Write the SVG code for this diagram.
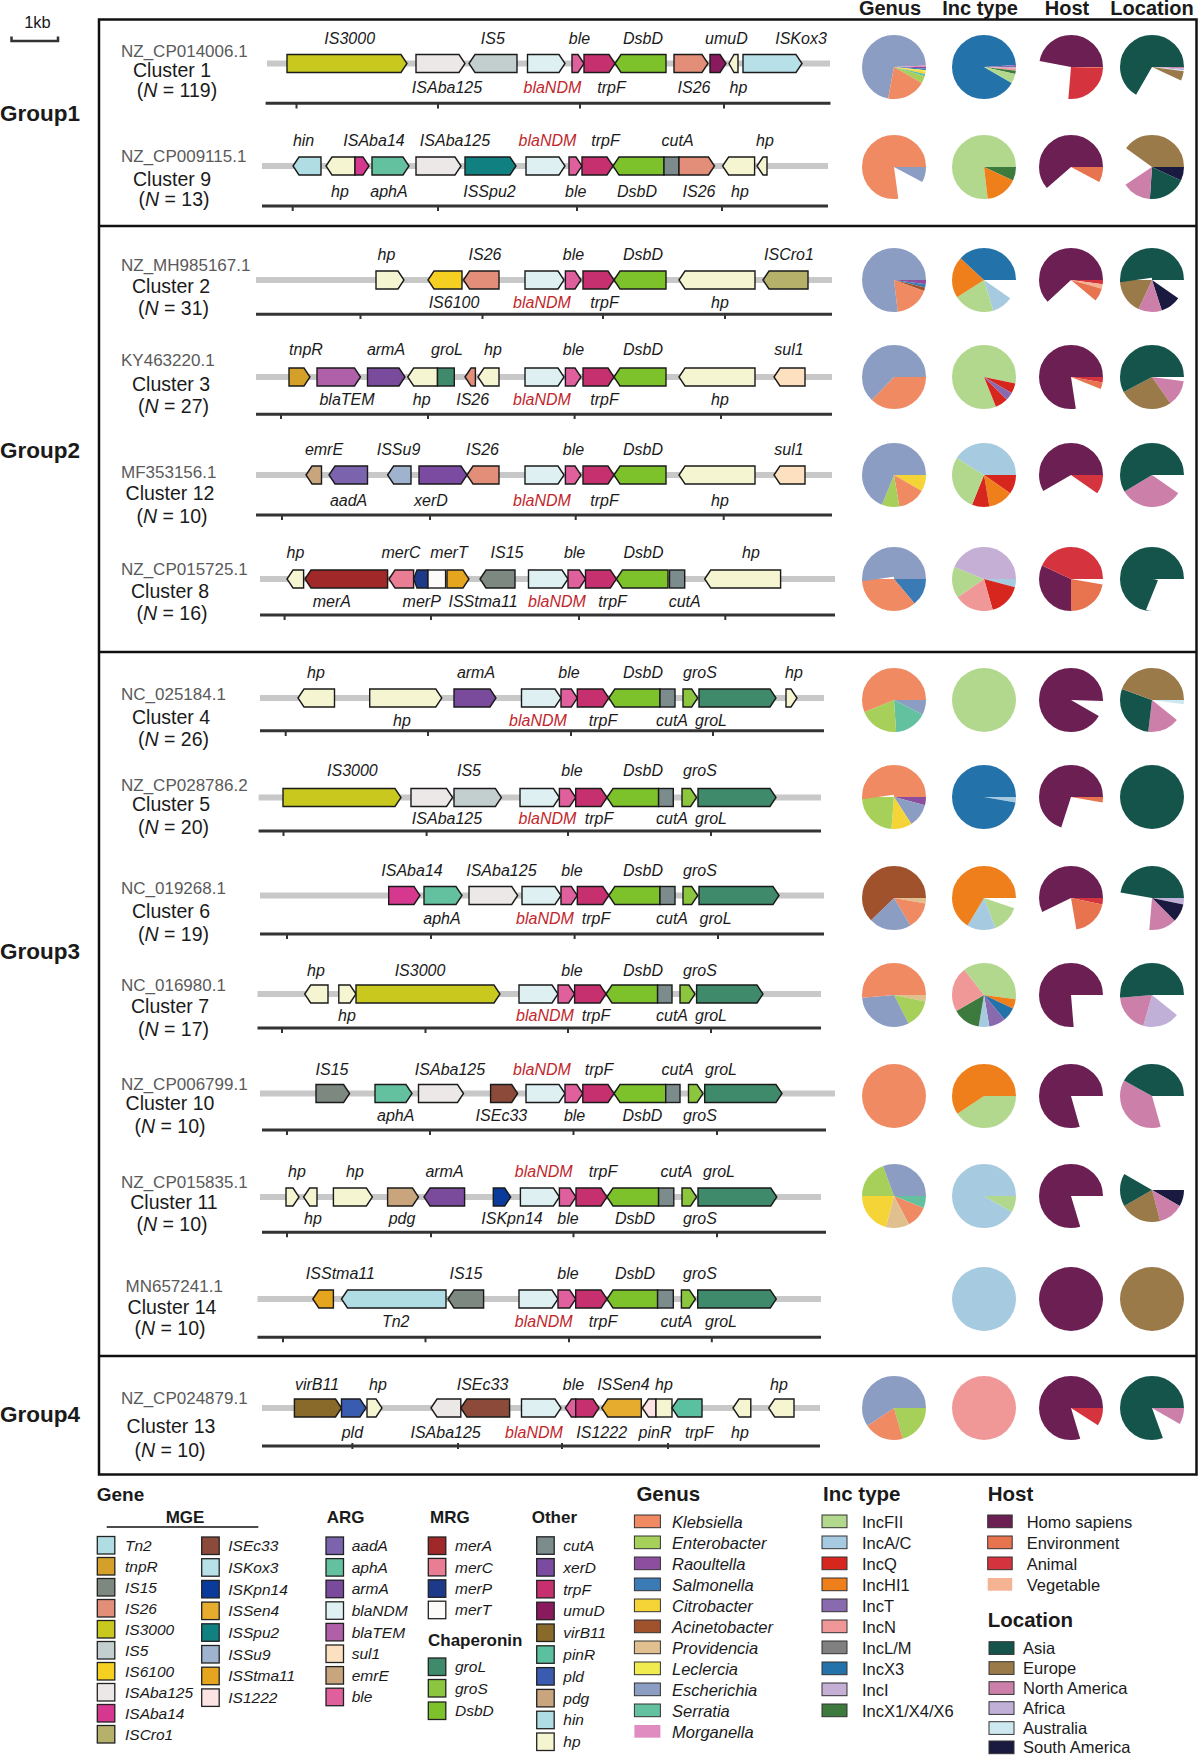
<svg xmlns="http://www.w3.org/2000/svg" width="1200" height="1755" viewBox="0 0 1200 1755">
<style>
text{font-family:"Liberation Sans",Arial,sans-serif;fill:#1a1a1a}
.lab{font-size:16px;font-style:italic;text-anchor:middle}
.red{fill:#c1272d}
.acc{font-size:17px;fill:#5a5a5a}
.cl{font-size:19.5px;text-anchor:middle}
.grp{font-size:22.5px;font-weight:bold}
.hd{font-size:20px;font-weight:bold;text-anchor:middle}
.lh{font-weight:bold}
.lg{font-size:15.5px;font-style:italic}
.lg2{font-size:16.5px}
.it{font-style:italic}
.bb{stroke:#c8c8c8;stroke-width:6}
.ru{stroke:#333;stroke-width:3}
.tk{stroke:#333;stroke-width:2}
polygon,rect.g{stroke:#1a1a1a;stroke-width:1.4}
.sw{stroke:#222;stroke-width:1.3}
.s{fill:none;stroke-width:32}
.Tn2{fill:#b0dde3}.tnpR{fill:#d4a02a}.IS15{fill:#7c8880}.IS26{fill:#e38e78}.IS3000{fill:#c8c81e}.IS5{fill:#c3cfcf}.IS6100{fill:#f5d020}.ISAba125{fill:#ece8e8}.ISAba14{fill:#d6388f}.ISCro1{fill:#b5b06a}.ISEc33{fill:#8b4a3a}.ISKox3{fill:#b7e0e8}.ISKpn14{fill:#0a3a9a}.ISSen4{fill:#e6ac2e}.ISSpu2{fill:#108080}.ISSu9{fill:#9fb3cf}.ISStma11{fill:#e6a51e}.IS1222{fill:#fde4e4}
.aadA{fill:#7b63ad}.aphA{fill:#63c1a0}.armA{fill:#7a4b9c}.blaNDM{fill:#dff0f2}.blaTEM{fill:#b060a8}.sul1{fill:#fde0c0}.emrE{fill:#c9a57e}.ble{fill:#e0609d}
.merA{fill:#a02828}.merC{fill:#e87d94}.merP{fill:#1d3a8a}.merT{fill:#fdfafa}.groL{fill:#3e8a6a}.groS{fill:#8cc63e}.DsbD{fill:#7dc22a}
.cutA{fill:#7c8c8c}.xerD{fill:#7a4ba0}.trpF{fill:#c6306f}.umuD{fill:#8a1a5e}.virB11{fill:#8a6a2a}.pinR{fill:#5bc0a0}.pld{fill:#3a5cb0}.pdg{fill:#c9a57e}.hin{fill:#b0dde3}.hp{fill:#f6f5d2}
.pKl{stroke:#ef8a62}.pEn{stroke:#a6d05a}.pRa{stroke:#8e4ea0}.pSa{stroke:#3a7ab5}.pCi{stroke:#f5d438}.pAc{stroke:#a0522d}.pPr{stroke:#e0c08f}.pLe{stroke:#f0ec50}.pEs{stroke:#8b9dc3}.pSe{stroke:#63c1a0}.pMo{stroke:#e08cc0}
.pFII{stroke:#b2d88e}.pAC{stroke:#a6cadf}.pQ{stroke:#d7261e}.pHI1{stroke:#ef7f1a}.pT{stroke:#8a6aae}.pN{stroke:#f09898}.pLM{stroke:#808080}.pX3{stroke:#2372a9}.pI{stroke:#c5afd5}.pX1{stroke:#3d7a3d}
.pHo{stroke:#6b1f52}.pEv{stroke:#e8734f}.pAn{stroke:#d5343f}.pVe{stroke:#f4b392}
.pAs{stroke:#14544a}.pEu{stroke:#9b7a4a}.pNA{stroke:#cc7fa8}.pAf{stroke:#c0b0d8}.pAu{stroke:#cde9ef}.pSA{stroke:#1a1a40}
</style>
<rect width="1200" height="1755" fill="#fff"/>

<!-- scale bar and headers -->
<g id="scale">
<text x="37.5" y="28" font-size="16.5" text-anchor="middle">1kb</text>
<path d="M11.5,36.5 V41 H58 V36.5" fill="none" stroke="#333" stroke-width="2.5"/>
</g>
<g id="headers">
<text class="hd" x="890" y="15">Genus</text>
<text class="hd" x="980" y="15">Inc type</text>
<text class="hd" x="1067" y="15">Host</text>
<text class="hd" x="1152" y="15">Location</text>
</g>

<!-- frame -->
<g id="frame" fill="none" stroke="#111" stroke-width="2.5">
<rect x="99" y="19.5" width="1097.5" height="1455"/>
<line x1="99" y1="226" x2="1196.5" y2="226"/>
<line x1="99" y1="652" x2="1196.5" y2="652"/>
<line x1="99" y1="1356" x2="1196.5" y2="1356"/>
</g>
<g id="groups">
<text class="grp" x="0" y="121">Group1</text>
<text class="grp" x="0" y="458">Group2</text>
<text class="grp" x="0" y="959">Group3</text>
<text class="grp" x="0" y="1422">Group4</text>
</g>

<!-- Cluster 1 -->
<g id="cluster1" transform="translate(0,63.5)">
<text class="acc" x="121" y="-6.5">NZ_CP014006.1</text>
<text class="cl" x="172" y="13.5">Cluster 1</text>
<text class="cl" x="177" y="33.5">(<tspan class="it">N</tspan> = 119)</text>
<line class="bb" x1="267" x2="830" y1="0" y2="0"/>
<polygon class="IS3000" points="287,-9 401,-9 407,0 401,9 287,9"/>
<polygon class="ISAba125" points="416,-9 459,-9 465,0 459,9 416,9"/>
<polygon class="IS5" points="469,0 475,-9 517,-9 517,9 475,9"/>
<polygon class="blaNDM" points="527.5,-9 559,-9 565,0 559,9 527.5,9"/>
<polygon class="ble" points="572,-9 578,-9 584,0 578,9 572,9"/>
<polygon class="trpF" points="584,-9 609,-9 615,0 609,9 584,9"/>
<polygon class="DsbD" points="615,0 621,-9 666,-9 666,9 621,9"/>
<polygon class="IS26" points="674,-9 702,-9 708,0 702,9 674,9"/>
<polygon class="umuD" points="710,-9 720,-9 726,0 720,9 710,9"/>
<polygon class="hp" points="729,0 734,-9 738,-9 738,9 734,9"/>
<polygon class="ISKox3" points="743,-9 796,-9 802,0 796,9 743,9"/>
<text class="lab" y="-19.5"><tspan x="349.7">IS3000</tspan><tspan x="492.8">IS5</tspan><tspan x="579.5">ble</tspan><tspan x="643">DsbD</tspan><tspan x="726.4">umuD</tspan><tspan x="801">ISKox3</tspan></text>
<text class="lab" y="29.5"><tspan x="447">ISAba125</tspan><tspan x="552.4" class="red">blaNDM</tspan><tspan x="611.5">trpF</tspan><tspan x="694">IS26</tspan><tspan x="738.5">hp</tspan></text>
<line class="ru" x1="265.6" x2="830.5" y1="39.8" y2="39.8"/>
<path class="tk" d="M296.5,40v5M438,40v5M580,40v5M724,40v5"/>
</g>

<!-- Cluster 9 -->
<g id="cluster9" transform="translate(0,166)">
<text class="acc" x="121" y="-4">NZ_CP009115.1</text>
<text class="cl" x="172" y="20">Cluster 9</text>
<text class="cl" x="174" y="40">(<tspan class="it">N</tspan> = 13)</text>
<line class="bb" x1="262" x2="828" y1="0" y2="0"/>
<polygon class="hin" points="293,0 299,-9 321,-9 321,9 299,9"/>
<polygon class="hp" points="326,0 332,-9 355,-9 355,9 332,9"/>
<polygon class="ISAba14" points="355,-9 363,-9 369,0 363,9 355,9"/>
<polygon class="aphA" points="372,-9 403,-9 409,0 403,9 372,9"/>
<polygon class="ISAba125" points="416,-9 455,-9 461,0 455,9 416,9"/>
<polygon class="ISSpu2" points="465,-9 510,-9 516,0 510,9 465,9"/>
<polygon class="blaNDM" points="526,-9 559,-9 565,0 559,9 526,9"/>
<polygon class="ble" points="569,-9 576,-9 582,0 576,9 569,9"/>
<polygon class="trpF" points="582,-9 607,-9 613,0 607,9 582,9"/>
<polygon class="DsbD" points="613,0 619,-9 664,-9 664,9 619,9"/>
<rect class="g cutA" x="664" y="-9" width="15" height="18"/>
<polygon class="IS26" points="679,-9 708.5,-9 714.5,0 708.5,9 679,9"/>
<polygon class="hp" points="722.6,0 728.6,-9 754.6,-9 754.6,9 728.6,9"/>
<polygon class="hp" points="757,0 763,-9 767,-9 767,9 763,9"/>
<text class="lab" y="-20"><tspan x="303.6">hin</tspan><tspan x="374">ISAba14</tspan><tspan x="455">ISAba125</tspan><tspan x="547.5" class="red">blaNDM</tspan><tspan x="605.5">trpF</tspan><tspan x="677.6">cutA</tspan><tspan x="765">hp</tspan></text>
<text class="lab" y="31"><tspan x="340">hp</tspan><tspan x="389">aphA</tspan><tspan x="489.5">ISSpu2</tspan><tspan x="575.7">ble</tspan><tspan x="637">DsbD</tspan><tspan x="699">IS26</tspan><tspan x="740">hp</tspan></text>
<line class="ru" x1="262" x2="828" y1="40" y2="40"/>
<path class="tk" d="M292.7,40v5M438,40v5M577,40v5M722,40v5"/>
</g>

<!-- Cluster 2 -->
<g id="cluster2" transform="translate(0,280)">
<text class="acc" x="121" y="-9">NZ_MH985167.1</text>
<text class="cl" x="171" y="13">Cluster 2</text>
<text class="cl" x="173.5" y="35">(<tspan class="it">N</tspan> = 31)</text>
<line class="bb" x1="256" x2="832" y1="0" y2="0"/>
<polygon class="hp" points="376,-9 398,-9 404,0 398,9 376,9"/>
<polygon class="IS6100" points="428,0 434,-9 462,-9 462,9 434,9"/>
<polygon class="IS26" points="463.5,0 469.5,-9 499,-9 499,9 469.5,9"/>
<polygon class="blaNDM" points="525,-9 558,-9 564,0 558,9 525,9"/>
<polygon class="ble" points="565.4,-9 575,-9 581,0 575,9 565.4,9"/>
<polygon class="trpF" points="583,-9 608,-9 614,0 608,9 583,9"/>
<polygon class="DsbD" points="614,0 620,-9 666,-9 666,9 620,9"/>
<polygon class="hp" points="679,0 685,-9 755,-9 755,9 685,9"/>
<polygon class="ISCro1" points="763,0 769,-9 808,-9 808,9 769,9"/>
<text class="lab" y="-20"><tspan x="386.5">hp</tspan><tspan x="485">IS26</tspan><tspan x="573.5">ble</tspan><tspan x="643">DsbD</tspan><tspan x="789">ISCro1</tspan></text>
<text class="lab" y="28"><tspan x="454">IS6100</tspan><tspan x="542" class="red">blaNDM</tspan><tspan x="604.5">trpF</tspan><tspan x="720">hp</tspan></text>
<line class="ru" x1="256" x2="832" y1="34.3" y2="34.3"/>
<path class="tk" d="M360.5,34v5M482.5,34v5M603,34v5M725,34v5"/>
</g>

<!-- Cluster 3 -->
<g id="cluster3" transform="translate(0,377)">
<text class="acc" x="121" y="-11">KY463220.1</text>
<text class="cl" x="171" y="14">Cluster 3</text>
<text class="cl" x="173.5" y="36">(<tspan class="it">N</tspan> = 27)</text>
<line class="bb" x1="256" x2="832" y1="0" y2="0"/>
<polygon class="tnpR" points="289,-9 304,-9 310,0 304,9 289,9"/>
<polygon class="blaTEM" points="317,-9 354.5,-9 360.5,0 354.5,9 317,9"/>
<polygon class="armA" points="367.5,-9 399,-9 405,0 399,9 367.5,9"/>
<polygon class="hp" points="407.7,0 413.7,-9 437.5,-9 437.5,9 413.7,9"/>
<rect class="g groL" x="437.5" y="-9" width="16.8" height="18"/>
<polygon class="IS26" points="465,0 471,-9 475.4,-9 475.4,9 471,9"/>
<polygon class="hp" points="478,0 484,-9 499,-9 499,9 484,9"/>
<polygon class="blaNDM" points="525,-9 558,-9 564,0 558,9 525,9"/>
<polygon class="ble" points="565.4,-9 575,-9 581,0 575,9 565.4,9"/>
<polygon class="trpF" points="583,-9 608,-9 614,0 608,9 583,9"/>
<polygon class="DsbD" points="614,0 620,-9 666,-9 666,9 620,9"/>
<polygon class="hp" points="679,0 685,-9 755,-9 755,9 685,9"/>
<polygon class="sul1" points="774,0 780,-9 805,-9 805,9 780,9"/>
<text class="lab" y="-22"><tspan x="306">tnpR</tspan><tspan x="386">armA</tspan><tspan x="447">groL</tspan><tspan x="493">hp</tspan><tspan x="573.5">ble</tspan><tspan x="643">DsbD</tspan><tspan x="789">sul1</tspan></text>
<text class="lab" y="28"><tspan x="347">blaTEM</tspan><tspan x="421.7">hp</tspan><tspan x="472.7">IS26</tspan><tspan x="542" class="red">blaNDM</tspan><tspan x="604.5">trpF</tspan><tspan x="720">hp</tspan></text>
<line class="ru" x1="256" x2="832" y1="37.3" y2="37.3"/>
<path class="tk" d="M281,37v5M428,37v5M574.6,37v5M721,37v5"/>
</g>

<!-- Cluster 12 -->
<g id="cluster12" transform="translate(0,475)">
<text class="acc" x="121" y="3">MF353156.1</text>
<text class="cl" x="170" y="25">Cluster 12</text>
<text class="cl" x="172" y="48">(<tspan class="it">N</tspan> = 10)</text>
<line class="bb" x1="256" x2="832" y1="0" y2="0"/>
<polygon class="emrE" points="306,0 312,-9 321.5,-9 321.5,9 312,9"/>
<polygon class="aadA" points="329,0 335,-9 367.5,-9 367.5,9 335,9"/>
<polygon class="ISSu9" points="387.6,0 393.6,-9 411,-9 411,9 393.6,9"/>
<polygon class="xerD" points="419,-9 461,-9 467,0 461,9 419,9"/>
<polygon class="IS26" points="467,0 473,-9 499,-9 499,9 473,9"/>
<polygon class="blaNDM" points="525,-9 558,-9 564,0 558,9 525,9"/>
<polygon class="ble" points="565.4,-9 575,-9 581,0 575,9 565.4,9"/>
<polygon class="trpF" points="583,-9 608,-9 614,0 608,9 583,9"/>
<polygon class="DsbD" points="614,0 620,-9 666,-9 666,9 620,9"/>
<polygon class="hp" points="679,0 685,-9 755,-9 755,9 685,9"/>
<polygon class="sul1" points="774,0 780,-9 805,-9 805,9 780,9"/>
<text class="lab" y="-20"><tspan x="324">emrE</tspan><tspan x="398.5">ISSu9</tspan><tspan x="482.5">IS26</tspan><tspan x="573.5">ble</tspan><tspan x="643">DsbD</tspan><tspan x="789">sul1</tspan></text>
<text class="lab" y="31"><tspan x="348.6">aadA</tspan><tspan x="431">xerD</tspan><tspan x="542" class="red">blaNDM</tspan><tspan x="604.5">trpF</tspan><tspan x="720">hp</tspan></text>
<line class="ru" x1="256" x2="832" y1="40" y2="40"/>
<path class="tk" d="M282,40v5M430,40v5M575.7,40v5M723.7,40v5"/>
</g>

<!-- Cluster 8 -->
<g id="cluster8" transform="translate(0,579)">
<text class="acc" x="121" y="-4">NZ_CP015725.1</text>
<text class="cl" x="170" y="19">Cluster 8</text>
<text class="cl" x="172" y="41">(<tspan class="it">N</tspan> = 16)</text>
<line class="bb" x1="260" x2="835" y1="0" y2="0"/>
<polygon class="hp" points="287,0 293,-9 303.6,-9 303.6,9 293,9"/>
<polygon class="merA" points="305,0 311,-9 387.6,-9 387.6,9 311,9"/>
<polygon class="merC" points="389,0 395,-9 413.6,-9 413.6,9 395,9"/>
<polygon class="merP" points="413.6,0 417,-9 428,-9 428,9 417,9"/>
<rect class="g merT" x="428" y="-9" width="17.6" height="18"/>
<polygon class="ISStma11" points="447,-9 463,-9 469,0 463,9 447,9"/>
<polygon class="IS15" points="480,0 486,-9 515,-9 515,9 486,9"/>
<polygon class="blaNDM" points="528.5,-9 562,-9 568,0 562,9 528.5,9"/>
<polygon class="ble" points="568,-9 579.5,-9 585.5,0 579.5,9 568,9"/>
<polygon class="trpF" points="585.5,-9 610.4,-9 616.4,0 610.4,9 585.5,9"/>
<polygon class="DsbD" points="616.4,0 622.4,-9 668,-9 668,9 622.4,9"/>
<rect class="g cutA" x="669.5" y="-9" width="15.2" height="18"/>
<polygon class="hp" points="704.7,0 710.7,-9 780.6,-9 780.6,9 710.7,9"/>
<text class="lab" y="-21"><tspan x="295.5">hp</tspan><tspan x="401">merC</tspan><tspan x="449">merT</tspan><tspan x="507">IS15</tspan><tspan x="574.6">ble</tspan><tspan x="643.5">DsbD</tspan><tspan x="751">hp</tspan></text>
<text class="lab" y="28"><tspan x="331.8">merA</tspan><tspan x="421.7">merP</tspan><tspan x="483">ISStma11</tspan><tspan x="557" class="red">blaNDM</tspan><tspan x="612.6">trpF</tspan><tspan x="684.7">cutA</tspan></text>
<line class="ru" x1="260" x2="835" y1="36" y2="36"/>
<path class="tk" d="M284.6,36v5M431,36v5M579,36v5M725.3,36v5"/>
</g>

<!-- Cluster 4 -->
<g id="cluster4" transform="translate(0,698)">
<text class="acc" x="121" y="2">NC_025184.1</text>
<text class="cl" x="171" y="26">Cluster 4</text>
<text class="cl" x="173.5" y="48">(<tspan class="it">N</tspan> = 26)</text>
<line class="bb" x1="260" x2="824" y1="0" y2="0"/>
<polygon class="hp" points="298,0 304,-9 334.5,-9 334.5,9 304,9"/>
<polygon class="hp" points="369.7,-9 435.8,-9 441.8,0 435.8,9 369.7,9"/>
<polygon class="armA" points="454,-9 490,-9 496,0 490,9 454,9"/>
<polygon class="blaNDM" points="521.5,-9 555,-9 561,0 555,9 521.5,9"/>
<polygon class="ble" points="561,-9 571.3,-9 577.3,0 571.3,9 561,9"/>
<polygon class="trpF" points="577.3,-9 602.8,-9 608.8,0 602.8,9 577.3,9"/>
<polygon class="DsbD" points="608.8,0 614.8,-9 660,-9 660,9 614.8,9"/>
<rect class="g cutA" x="660" y="-9" width="15" height="18"/>
<polygon class="groS" points="683,-9 691.7,-9 697.7,0 691.7,9 683,9"/>
<polygon class="groL" points="699,-9 770,-9 776,0 770,9 699,9"/>
<polygon class="hp" points="786,-9 791,-9 797,0 791,9 786,9"/>
<text class="lab" y="-20"><tspan x="316">hp</tspan><tspan x="476">armA</tspan><tspan x="569">ble</tspan><tspan x="643">DsbD</tspan><tspan x="700">groS</tspan><tspan x="794">hp</tspan></text>
<text class="lab" y="28"><tspan x="402">hp</tspan><tspan x="538" class="red">blaNDM</tspan><tspan x="603">trpF</tspan><tspan x="672">cutA</tspan><tspan x="711">groL</tspan></text>
<line class="ru" x1="260" x2="824" y1="32.7" y2="32.7"/>
<path class="tk" d="M285.7,33v5M428,33v5M571,33v5M713,33v5"/>
</g>

<!-- Cluster 5 -->
<g id="cluster5" transform="translate(0,797.5)">
<text class="acc" x="121" y="-6.5">NZ_CP028786.2</text>
<text class="cl" x="171" y="13.5">Cluster 5</text>
<text class="cl" x="173.5" y="36.5">(<tspan class="it">N</tspan> = 20)</text>
<line class="bb" x1="258.6" x2="821" y1="0" y2="0"/>
<polygon class="IS3000" points="283,-9 395,-9 401,0 395,9 283,9"/>
<polygon class="ISAba125" points="411,-9 446.6,-9 452.6,0 446.6,9 411,9"/>
<polygon class="IS5" points="454,-9 495.4,-9 501.4,0 495.4,9 454,9"/>
<polygon class="blaNDM" points="520,-9 553.4,-9 559.4,0 553.4,9 520,9"/>
<polygon class="ble" points="559.4,-9 569.7,-9 575.7,0 569.7,9 559.4,9"/>
<polygon class="trpF" points="575.7,-9 601,-9 607,0 601,9 575.7,9"/>
<polygon class="DsbD" points="607,0 613,-9 658.6,-9 658.6,9 613,9"/>
<rect class="g cutA" x="658.6" y="-9" width="14.7" height="18"/>
<polygon class="groS" points="682,-9 690.6,-9 696.6,0 690.6,9 682,9"/>
<polygon class="groL" points="698,-9 770,-9 776,0 770,9 698,9"/>
<text class="lab" y="-21.5"><tspan x="352.4">IS3000</tspan><tspan x="469">IS5</tspan><tspan x="572">ble</tspan><tspan x="643">DsbD</tspan><tspan x="700">groS</tspan></text>
<text class="lab" y="26.5"><tspan x="447">ISAba125</tspan><tspan x="547.5" class="red">blaNDM</tspan><tspan x="599">trpF</tspan><tspan x="672">cutA</tspan><tspan x="711">groL</tspan></text>
<line class="ru" x1="258.6" x2="821" y1="33.5" y2="33.5"/>
<path class="tk" d="M283.5,33.5v5M426.6,33.5v5M568,33.5v5M711,33.5v5"/>
</g>

<!-- Cluster 6 -->
<g id="cluster6" transform="translate(0,895.5)">
<text class="acc" x="121" y="-1.5">NC_019268.1</text>
<text class="cl" x="171" y="22.5">Cluster 6</text>
<text class="cl" x="173.5" y="45.5">(<tspan class="it">N</tspan> = 19)</text>
<line class="bb" x1="260" x2="824" y1="0" y2="0"/>
<polygon class="ISAba14" points="388.7,-9 414,-9 420,0 414,9 388.7,9"/>
<polygon class="aphA" points="424,-9 456,-9 462,0 456,9 424,9"/>
<polygon class="ISAba125" points="469,-9 511.7,-9 517.7,0 511.7,9 469,9"/>
<polygon class="blaNDM" points="522,-9 555,-9 561,0 555,9 522,9"/>
<polygon class="ble" points="561,-9 571.3,-9 577.3,0 571.3,9 561,9"/>
<polygon class="trpF" points="577.3,-9 602.8,-9 608.8,0 602.8,9 577.3,9"/>
<polygon class="DsbD" points="608.8,0 614.8,-9 660,-9 660,9 614.8,9"/>
<rect class="g cutA" x="660" y="-9" width="15" height="18"/>
<polygon class="groS" points="683,-9 691.7,-9 697.7,0 691.7,9 683,9"/>
<polygon class="groL" points="699,-9 773,-9 779,0 773,9 699,9"/>
<text class="lab" y="-19.5"><tspan x="412">ISAba14</tspan><tspan x="501.4">ISAba125</tspan><tspan x="572">ble</tspan><tspan x="643">DsbD</tspan><tspan x="700">groS</tspan></text>
<text class="lab" y="28.5"><tspan x="442">aphA</tspan><tspan x="545" class="red">blaNDM</tspan><tspan x="596">trpF</tspan><tspan x="672">cutA</tspan><tspan x="715.6">groL</tspan></text>
<line class="ru" x1="260" x2="824" y1="38.5" y2="38.5"/>
<path class="tk" d="M287,38.5v5M431,38.5v5M574.6,38.5v5M718,38.5v5"/>
</g>

<!-- Cluster 7 -->
<g id="cluster7" transform="translate(0,994)">
<text class="acc" x="121" y="-3">NC_016980.1</text>
<text class="cl" x="170" y="19">Cluster 7</text>
<text class="cl" x="173.5" y="42">(<tspan class="it">N</tspan> = 17)</text>
<line class="bb" x1="257.5" x2="821" y1="0" y2="0"/>
<polygon class="hp" points="304.7,0 310.7,-9 328,-9 328,9 310.7,9"/>
<polygon class="hp" points="338.8,-9 350,-9 356,0 350,9 338.8,9"/>
<polygon class="IS3000" points="356,-9 494,-9 500,0 494,9 356,9"/>
<polygon class="blaNDM" points="519,-9 552,-9 558,0 552,9 519,9"/>
<polygon class="ble" points="558,-9 568.6,-9 574.6,0 568.6,9 558,9"/>
<polygon class="trpF" points="574.6,-9 600,-9 606,0 600,9 574.6,9"/>
<polygon class="DsbD" points="606,0 612,-9 657.6,-9 657.6,9 612,9"/>
<rect class="g cutA" x="657.6" y="-9" width="14.4" height="18"/>
<polygon class="groS" points="680,-9 689,-9 695,0 689,9 680,9"/>
<polygon class="groL" points="696.6,-9 757,-9 763,0 757,9 696.6,9"/>
<text class="lab" y="-18"><tspan x="316">hp</tspan><tspan x="420">IS3000</tspan><tspan x="572">ble</tspan><tspan x="643">DsbD</tspan><tspan x="700">groS</tspan></text>
<text class="lab" y="27"><tspan x="347">hp</tspan><tspan x="545" class="red">blaNDM</tspan><tspan x="596">trpF</tspan><tspan x="672">cutA</tspan><tspan x="711">groL</tspan></text>
<line class="ru" x1="257.5" x2="821" y1="34" y2="34"/>
<path class="tk" d="M282,34v5M425.5,34v5M568,34v5M711,34v5"/>
</g>

<!-- Cluster 10 -->
<g id="cluster10" transform="translate(0,1093.5)">
<text class="acc" x="121" y="-3.5">NZ_CP006799.1</text>
<text class="cl" x="170" y="16.5">Cluster 10</text>
<text class="cl" x="170" y="39.5">(<tspan class="it">N</tspan> = 10)</text>
<line class="bb" x1="260" x2="835" y1="0" y2="0"/>
<polygon class="IS15" points="316,-9 343.6,-9 349.6,0 343.6,9 316,9"/>
<polygon class="aphA" points="375,-9 406,-9 412,0 406,9 375,9"/>
<polygon class="ISAba125" points="418.5,-9 457.5,-9 463.5,0 457.5,9 418.5,9"/>
<polygon class="ISEc33" points="490.6,-9 511.7,-9 517.7,0 511.7,9 490.6,9"/>
<polygon class="blaNDM" points="526,-9 559,-9 565,0 559,9 526,9"/>
<polygon class="ble" points="565,-9 576.8,-9 582.8,0 576.8,9 565,9"/>
<polygon class="trpF" points="582.8,-9 608,-9 614,0 608,9 582.8,9"/>
<polygon class="DsbD" points="614,0 620,-9 665.7,-9 665.7,9 620,9"/>
<rect class="g cutA" x="665.7" y="-9" width="14.3" height="18"/>
<polygon class="groS" points="688.5,-9 697,-9 703,0 697,9 688.5,9"/>
<polygon class="groL" points="704.7,-9 776,-9 782,0 776,9 704.7,9"/>
<text class="lab" y="-18.5"><tspan x="332">IS15</tspan><tspan x="450">ISAba125</tspan><tspan x="542" class="red">blaNDM</tspan><tspan x="599">trpF</tspan><tspan x="677.6">cutA</tspan><tspan x="721">groL</tspan></text>
<text class="lab" y="27.5"><tspan x="395.7">aphA</tspan><tspan x="501.4">ISEc33</tspan><tspan x="574.6">ble</tspan><tspan x="642.4">DsbD</tspan><tspan x="700">groS</tspan></text>
<line class="ru" x1="262" x2="826" y1="36.5" y2="36.5"/>
<path class="tk" d="M287,36.5v5M430,36.5v5M573.5,36.5v5M717,36.5v5"/>
</g>

<!-- Cluster 11 -->
<g id="cluster11" transform="translate(0,1197)">
<text class="acc" x="121" y="-9">NZ_CP015835.1</text>
<text class="cl" x="174" y="12">Cluster 11</text>
<text class="cl" x="172" y="34">(<tspan class="it">N</tspan> = 10)</text>
<line class="bb" x1="260" x2="821" y1="0" y2="0"/>
<polygon class="hp" points="286,-9 293,-9 299,0 293,9 286,9"/>
<polygon class="hp" points="303.6,0 309.6,-9 317,-9 317,9 309.6,9"/>
<polygon class="hp" points="333.4,-9 366.4,-9 372.4,0 366.4,9 333.4,9"/>
<polygon class="pdg" points="387.6,-9 412.5,-9 418.5,0 412.5,9 387.6,9"/>
<polygon class="armA" points="424,0 430,-9 464.6,-9 464.6,9 430,9"/>
<polygon class="ISKpn14" points="493.3,-9 504.7,-9 510.7,0 504.7,9 493.3,9"/>
<polygon class="blaNDM" points="520.4,-9 553.4,-9 559.4,0 553.4,9 520.4,9"/>
<polygon class="ble" points="559.4,-9 570,-9 576,0 570,9 559.4,9"/>
<polygon class="trpF" points="576,-9 601,-9 607,0 601,9 576,9"/>
<polygon class="DsbD" points="607,0 613,-9 658.6,-9 658.6,9 613,9"/>
<rect class="g cutA" x="658.6" y="-9" width="15.2" height="18"/>
<polygon class="groS" points="682,-9 690.6,-9 696.6,0 690.6,9 682,9"/>
<polygon class="groL" points="698,-9 770.8,-9 776.8,0 770.8,9 698,9"/>
<text class="lab" y="-20"><tspan x="297">hp</tspan><tspan x="355">hp</tspan><tspan x="444.5">armA</tspan><tspan x="543.7" class="red">blaNDM</tspan><tspan x="603">trpF</tspan><tspan x="676.5">cutA</tspan><tspan x="719">groL</tspan></text>
<text class="lab" y="27"><tspan x="313">hp</tspan><tspan x="402">pdg</tspan><tspan x="512">ISKpn14</tspan><tspan x="568">ble</tspan><tspan x="635">DsbD</tspan><tspan x="700">groS</tspan></text>
<line class="ru" x1="262" x2="826" y1="35.3" y2="35.3"/>
<path class="tk" d="M287,35.3v5M431,35.3v5M573.5,35.3v5M717,35.3v5"/>
</g>

<!-- Cluster 14 -->
<g id="cluster14" transform="translate(0,1299)">
<text class="acc" x="125.5" y="-7">MN657241.1</text>
<text class="cl" x="172" y="15">Cluster 14</text>
<text class="cl" x="170" y="36">(<tspan class="it">N</tspan> = 10)</text>
<line class="bb" x1="257.5" x2="821" y1="0" y2="0"/>
<polygon class="ISStma11" points="312.8,0 318.8,-9 333.4,-9 333.4,9 318.8,9"/>
<polygon class="Tn2" points="341.5,0 347.5,-9 446,-9 446,9 347.5,9"/>
<polygon class="IS15" points="448,0 454,-9 483.6,-9 483.6,9 454,9"/>
<polygon class="blaNDM" points="519,-9 552,-9 558,0 552,9 519,9"/>
<polygon class="ble" points="558,-9 569.7,-9 575.7,0 569.7,9 558,9"/>
<polygon class="trpF" points="575.7,-9 601,-9 607,0 601,9 575.7,9"/>
<polygon class="DsbD" points="607,0 613,-9 657.6,-9 657.6,9 613,9"/>
<rect class="g cutA" x="657.6" y="-9" width="15.7" height="18"/>
<polygon class="groS" points="681.4,-9 689.5,-9 695.5,0 689.5,9 681.4,9"/>
<polygon class="groL" points="697.7,-9 770.3,-9 776.3,0 770.3,9 697.7,9"/>
<text class="lab" y="-20"><tspan x="340.4">ISStma11</tspan><tspan x="466">IS15</tspan><tspan x="568">ble</tspan><tspan x="635">DsbD</tspan><tspan x="700">groS</tspan></text>
<text class="lab" y="28"><tspan x="395.7">Tn2</tspan><tspan x="543.7" class="red">blaNDM</tspan><tspan x="603">trpF</tspan><tspan x="676.5">cutA</tspan><tspan x="721">groL</tspan></text>
<line class="ru" x1="257.5" x2="821" y1="38.3" y2="38.3"/>
<path class="tk" d="M283,38.3v5M425.5,38.3v5M569,38.3v5M711.8,38.3v5"/>
</g>

<!-- Cluster 13 -->
<g id="cluster13" transform="translate(0,1408)">
<text class="acc" x="121" y="-4">NZ_CP024879.1</text>
<text class="cl" x="171" y="25">Cluster 13</text>
<text class="cl" x="170" y="49">(<tspan class="it">N</tspan> = 10)</text>
<line class="bb" x1="262" x2="820" y1="0" y2="0"/>
<polygon class="virB11" points="294.4,-9 335.5,-9 341.5,0 335.5,9 294.4,9"/>
<polygon class="pld" points="341.5,-9 360,-9 366,0 360,9 341.5,9"/>
<polygon class="hp" points="367,-9 376,-9 382,0 376,9 367,9"/>
<polygon class="ISAba125" points="431,0 437,-9 460.8,-9 460.8,9 437,9"/>
<polygon class="ISEc33" points="460.8,0 466.8,-9 509.6,-9 509.6,9 466.8,9"/>
<polygon class="blaNDM" points="521.5,-9 555,-9 561,0 555,9 521.5,9"/>
<polygon class="ble" points="565.4,0 571.4,-9 575.7,-9 575.7,9 571.4,9"/>
<polygon class="trpF" points="575.7,-9 593,-9 599,0 593,9 575.7,9"/>
<polygon class="ISSen4" points="601.7,0 607.7,-9 641.3,-9 641.3,9 607.7,9"/>
<polygon class="IS1222" points="642.4,0 648.4,-9 656,-9 656,9 648.4,9"/>
<rect class="g hp" x="656" y="-9" width="16" height="18"/>
<polygon class="pinR" points="672,0 678,-9 702,-9 702,9 678,9"/>
<polygon class="hp" points="733,0 739,-9 750.8,-9 750.8,9 739,9"/>
<polygon class="hp" points="768.7,0 774.7,-9 794,-9 794,9 774.7,9"/>
<text class="lab" y="-18"><tspan x="317">virB11</tspan><tspan x="378">hp</tspan><tspan x="482.5">ISEc33</tspan><tspan x="573.5">ble</tspan><tspan x="623.4">ISSen4</tspan><tspan x="664">hp</tspan><tspan x="779">hp</tspan></text>
<text class="lab" y="30"><tspan x="352.4">pld</tspan><tspan x="445.6">ISAba125</tspan><tspan x="534" class="red">blaNDM</tspan><tspan x="601.7">IS1222</tspan><tspan x="655">pinR</tspan><tspan x="699.3">trpF</tspan><tspan x="740">hp</tspan></text>
<line class="ru" x1="262" x2="820" y1="38" y2="38"/>
<path class="tk" d="M352.4,35v6M458,35v6M562,35v6M668,35v6"/>
</g>

<!-- Pie charts -->
<g id="pies-c1">
<g transform="translate(894,67)">
<circle class="s pEs" r="16" pathLength="360" stroke-dasharray="256 360" stroke-dashoffset="-101"/>
<circle class="s pMo" r="16" pathLength="360" stroke-dasharray="3 360" stroke-dashoffset="-357"/>
<circle class="s pRa" r="16" pathLength="360" stroke-dasharray="3 360" stroke-dashoffset="0"/>
<circle class="s pSa" r="16" pathLength="360" stroke-dasharray="3 360" stroke-dashoffset="-3"/>
<circle class="s pLe" r="16" pathLength="360" stroke-dasharray="3 360" stroke-dashoffset="-6"/>
<circle class="s pCi" r="16" pathLength="360" stroke-dasharray="4 360" stroke-dashoffset="-9"/>
<circle class="s pSe" r="16" pathLength="360" stroke-dasharray="4 360" stroke-dashoffset="-13"/>
<circle class="s pEn" r="16" pathLength="360" stroke-dasharray="13 360" stroke-dashoffset="-17"/>
<circle class="s pKl" r="16" pathLength="360" stroke-dasharray="71 360" stroke-dashoffset="-30"/>
</g>
<g transform="translate(984,67)">
<circle class="s pX3" r="16" pathLength="360" stroke-dasharray="326 360" stroke-dashoffset="-30"/>
<circle class="s pT" r="16" pathLength="360" stroke-dasharray="4 360" stroke-dashoffset="-356"/>
<circle class="s pI" r="16" pathLength="360" stroke-dasharray="3 360" stroke-dashoffset="0"/>
<circle class="s pN" r="16" pathLength="360" stroke-dasharray="4 360" stroke-dashoffset="-3"/>
<circle class="s pX1" r="16" pathLength="360" stroke-dasharray="6 360" stroke-dashoffset="-7"/>
<circle class="s pFII" r="16" pathLength="360" stroke-dasharray="17 360" stroke-dashoffset="-13"/>
</g>
<g transform="translate(1071,67)">
<circle class="s pHo" r="16" pathLength="360" stroke-dasharray="169 360" stroke-dashoffset="-191"/>
<circle class="s pEv" r="16" pathLength="360" stroke-dasharray="2 360" stroke-dashoffset="0"/>
<circle class="s pAn" r="16" pathLength="360" stroke-dasharray="93 360" stroke-dashoffset="-2"/>
</g>
<g transform="translate(1152,67)">
<circle class="s pAs" r="16" pathLength="360" stroke-dasharray="240 360" stroke-dashoffset="-120"/>
<circle class="s pNA" r="16" pathLength="360" stroke-dasharray="3 360" stroke-dashoffset="0"/>
<circle class="s pAf" r="16" pathLength="360" stroke-dasharray="3 360" stroke-dashoffset="-3"/>
<circle class="s pAu" r="16" pathLength="360" stroke-dasharray="2 360" stroke-dashoffset="-6"/>
<circle class="s pEu" r="16" pathLength="360" stroke-dasharray="17 360" stroke-dashoffset="-8"/>
</g>
</g>

<g id="pies-c9">
<g transform="translate(894,167)">
<circle class="s pKl" r="16" pathLength="360" stroke-dasharray="278 360" stroke-dashoffset="-82"/>
<circle class="s pEs" r="16" pathLength="360" stroke-dasharray="28 360" stroke-dashoffset="0"/>
</g>
<g transform="translate(984,167)">
<circle class="s pFII" r="16" pathLength="360" stroke-dasharray="277 360" stroke-dashoffset="-83"/>
<circle class="s pX1" r="16" pathLength="360" stroke-dasharray="25 360" stroke-dashoffset="0"/>
<circle class="s pHI1" r="16" pathLength="360" stroke-dasharray="58 360" stroke-dashoffset="-25"/>
</g>
<g transform="translate(1071,167)">
<circle class="s pHo" r="16" pathLength="360" stroke-dasharray="221 360" stroke-dashoffset="-139"/>
<circle class="s pEv" r="16" pathLength="360" stroke-dasharray="28 360" stroke-dashoffset="0"/>
</g>
<g transform="translate(1152,167)">
<circle class="s pSA" r="16" pathLength="360" stroke-dasharray="25 360" stroke-dashoffset="0"/>
<circle class="s pAs" r="16" pathLength="360" stroke-dasharray="69 360" stroke-dashoffset="-25"/>
<circle class="s pNA" r="16" pathLength="360" stroke-dasharray="52 360" stroke-dashoffset="-94"/>
<circle class="s pEu" r="16" pathLength="360" stroke-dasharray="144 360" stroke-dashoffset="-216"/>
</g>
</g>

<g id="pies-c2">
<g transform="translate(894,280)">
<circle class="s pRa" r="16" pathLength="360" stroke-dasharray="8 360" stroke-dashoffset="0"/>
<circle class="s pSa" r="16" pathLength="360" stroke-dasharray="6 360" stroke-dashoffset="-8"/>
<circle class="s pAc" r="16" pathLength="360" stroke-dasharray="6 360" stroke-dashoffset="-14"/>
<circle class="s pKl" r="16" pathLength="360" stroke-dasharray="63 360" stroke-dashoffset="-20"/>
<circle class="s pEs" r="16" pathLength="360" stroke-dasharray="277 360" stroke-dashoffset="-83"/>
</g>
<g transform="translate(984,280)">
<circle class="s pAC" r="16" pathLength="360" stroke-dasharray="38 360" stroke-dashoffset="-35"/>
<circle class="s pFII" r="16" pathLength="360" stroke-dasharray="74 360" stroke-dashoffset="-73"/>
<circle class="s pHI1" r="16" pathLength="360" stroke-dasharray="76 360" stroke-dashoffset="-147"/>
<circle class="s pX3" r="16" pathLength="360" stroke-dasharray="137 360" stroke-dashoffset="-223"/>
</g>
<g transform="translate(1071,280)">
<circle class="s pAn" r="16" pathLength="360" stroke-dasharray="8 360" stroke-dashoffset="0"/>
<circle class="s pVe" r="16" pathLength="360" stroke-dasharray="8 360" stroke-dashoffset="-8"/>
<circle class="s pEv" r="16" pathLength="360" stroke-dasharray="24 360" stroke-dashoffset="-16"/>
<circle class="s pHo" r="16" pathLength="360" stroke-dasharray="223 360" stroke-dashoffset="-137"/>
</g>
<g transform="translate(1152,280)">
<circle class="s pSA" r="16" pathLength="360" stroke-dasharray="37 360" stroke-dashoffset="-35"/>
<circle class="s pNA" r="16" pathLength="360" stroke-dasharray="43 360" stroke-dashoffset="-72"/>
<circle class="s pEu" r="16" pathLength="360" stroke-dasharray="65 360" stroke-dashoffset="-115"/>
<circle class="s pAs" r="16" pathLength="360" stroke-dasharray="180 360" stroke-dashoffset="-180"/>
</g>
</g>

<g id="pies-c3">
<g transform="translate(894,377)">
<circle class="s pKl" r="16" pathLength="360" stroke-dasharray="134 360" stroke-dashoffset="0"/>
<circle class="s pEs" r="16" pathLength="360" stroke-dasharray="226 360" stroke-dashoffset="-134"/>
</g>
<g transform="translate(984,377)">
<circle class="s pFII" r="16" pathLength="360" stroke-dasharray="292 360" stroke-dashoffset="-68"/>
<circle class="s pFII" r="16" pathLength="360" stroke-dasharray="12 360" stroke-dashoffset="0"/>
<circle class="s pQ" r="16" pathLength="360" stroke-dasharray="18 360" stroke-dashoffset="-12"/>
<circle class="s pT" r="16" pathLength="360" stroke-dasharray="15 360" stroke-dashoffset="-30"/>
<circle class="s pQ" r="16" pathLength="360" stroke-dasharray="23 360" stroke-dashoffset="-45"/>
</g>
<g transform="translate(1071,377)">
<circle class="s pAn" r="16" pathLength="360" stroke-dasharray="10 360" stroke-dashoffset="0"/>
<circle class="s pEv" r="16" pathLength="360" stroke-dasharray="12 360" stroke-dashoffset="-10"/>
<circle class="s pHo" r="16" pathLength="360" stroke-dasharray="279 360" stroke-dashoffset="-81"/>
</g>
<g transform="translate(1152,377)">
<circle class="s pNA" r="16" pathLength="360" stroke-dasharray="47 360" stroke-dashoffset="-8"/>
<circle class="s pEu" r="16" pathLength="360" stroke-dasharray="97 360" stroke-dashoffset="-55"/>
<circle class="s pAs" r="16" pathLength="360" stroke-dasharray="208 360" stroke-dashoffset="-152"/>
</g>
</g>

<g id="pies-c12">
<g transform="translate(894,475)">
<circle class="s pCi" r="16" pathLength="360" stroke-dasharray="30 360" stroke-dashoffset="0"/>
<circle class="s pKl" r="16" pathLength="360" stroke-dasharray="50 360" stroke-dashoffset="-30"/>
<circle class="s pEn" r="16" pathLength="360" stroke-dasharray="32 360" stroke-dashoffset="-80"/>
<circle class="s pEs" r="16" pathLength="360" stroke-dasharray="248 360" stroke-dashoffset="-112"/>
</g>
<g transform="translate(984,475)">
<circle class="s pQ" r="16" pathLength="360" stroke-dasharray="35 360" stroke-dashoffset="0"/>
<circle class="s pHI1" r="16" pathLength="360" stroke-dasharray="45 360" stroke-dashoffset="-35"/>
<circle class="s pQ" r="16" pathLength="360" stroke-dasharray="32 360" stroke-dashoffset="-80"/>
<circle class="s pFII" r="16" pathLength="360" stroke-dasharray="100 360" stroke-dashoffset="-112"/>
<circle class="s pAC" r="16" pathLength="360" stroke-dasharray="148 360" stroke-dashoffset="-212"/>
</g>
<g transform="translate(1071,475)">
<circle class="s pAn" r="16" pathLength="360" stroke-dasharray="35 360" stroke-dashoffset="0"/>
<circle class="s pHo" r="16" pathLength="360" stroke-dasharray="210 360" stroke-dashoffset="-150"/>
</g>
<g transform="translate(1152,475)">
<circle class="s pNA" r="16" pathLength="360" stroke-dasharray="114 360" stroke-dashoffset="-35"/>
<circle class="s pAs" r="16" pathLength="360" stroke-dasharray="211 360" stroke-dashoffset="-149"/>
</g>
</g>

<g id="pies-c8">
<g transform="translate(894,579)">
<circle class="s pSa" r="16" pathLength="360" stroke-dasharray="50 360" stroke-dashoffset="0"/>
<circle class="s pKl" r="16" pathLength="360" stroke-dasharray="130 360" stroke-dashoffset="-50"/>
<circle class="s pEs" r="16" pathLength="360" stroke-dasharray="180 360" stroke-dashoffset="-180"/>
</g>
<g transform="translate(984,579)">
<circle class="s pAC" r="16" pathLength="360" stroke-dasharray="15 360" stroke-dashoffset="0"/>
<circle class="s pQ" r="16" pathLength="360" stroke-dasharray="59 360" stroke-dashoffset="-15"/>
<circle class="s pN" r="16" pathLength="360" stroke-dasharray="71 360" stroke-dashoffset="-74"/>
<circle class="s pFII" r="16" pathLength="360" stroke-dasharray="57 360" stroke-dashoffset="-145"/>
<circle class="s pI" r="16" pathLength="360" stroke-dasharray="158 360" stroke-dashoffset="-202"/>
</g>
<g transform="translate(1071,579)">
<circle class="s pEv" r="16" pathLength="360" stroke-dasharray="80 360" stroke-dashoffset="-10"/>
<circle class="s pHo" r="16" pathLength="360" stroke-dasharray="115 360" stroke-dashoffset="-90"/>
<circle class="s pAn" r="16" pathLength="360" stroke-dasharray="155 360" stroke-dashoffset="-205"/>
</g>
<g transform="translate(1152,579)">
<circle class="s pAs" r="16" pathLength="360" stroke-dasharray="270 360" stroke-dashoffset="-90"/>
</g>
</g>

<g id="pies-c4">
<g transform="translate(894,700)">
<circle class="s pEs" r="16" pathLength="360" stroke-dasharray="27 360" stroke-dashoffset="0"/>
<circle class="s pSe" r="16" pathLength="360" stroke-dasharray="59 360" stroke-dashoffset="-27"/>
<circle class="s pEn" r="16" pathLength="360" stroke-dasharray="72 360" stroke-dashoffset="-86"/>
<circle class="s pKl" r="16" pathLength="360" stroke-dasharray="202 360" stroke-dashoffset="-158"/>
</g>
<circle cx="984" cy="700" r="32" fill="#b2d88e"/>
<g transform="translate(1071,700)">
<circle class="s pHo" r="16" pathLength="360" stroke-dasharray="330 360" stroke-dashoffset="-30"/>
<circle class="s pHo" r="16" pathLength="360" stroke-dasharray="2 360" stroke-dashoffset="0"/>
</g>
<g transform="translate(1152,700)">
<circle class="s pAu" r="16" pathLength="360" stroke-dasharray="8 360" stroke-dashoffset="0"/>
<circle class="s pNA" r="16" pathLength="360" stroke-dasharray="58 360" stroke-dashoffset="-39"/>
<circle class="s pAs" r="16" pathLength="360" stroke-dasharray="103 360" stroke-dashoffset="-97"/>
<circle class="s pEu" r="16" pathLength="360" stroke-dasharray="160 360" stroke-dashoffset="-200"/>
</g>
</g>

<g id="pies-c5">
<g transform="translate(894,797)">
<circle class="s pRa" r="16" pathLength="360" stroke-dasharray="15 360" stroke-dashoffset="0"/>
<circle class="s pEs" r="16" pathLength="360" stroke-dasharray="42 360" stroke-dashoffset="-15"/>
<circle class="s pCi" r="16" pathLength="360" stroke-dasharray="38 360" stroke-dashoffset="-57"/>
<circle class="s pEn" r="16" pathLength="360" stroke-dasharray="85 360" stroke-dashoffset="-95"/>
<circle class="s pKl" r="16" pathLength="360" stroke-dasharray="180 360" stroke-dashoffset="-180"/>
</g>
<g transform="translate(984,797)">
<circle class="s pAC" r="16" pathLength="360" stroke-dasharray="10 360" stroke-dashoffset="0"/>
<circle class="s pX3" r="16" pathLength="360" stroke-dasharray="350 360" stroke-dashoffset="-10"/>
</g>
<g transform="translate(1071,797)">
<circle class="s pEv" r="16" pathLength="360" stroke-dasharray="10 360" stroke-dashoffset="0"/>
<circle class="s pHo" r="16" pathLength="360" stroke-dasharray="252 360" stroke-dashoffset="-108"/>
</g>
<circle cx="1152" cy="797" r="32" fill="#14544a"/>
</g>

<g id="pies-c6">
<g transform="translate(894,898)">
<circle class="s pPr" r="16" pathLength="360" stroke-dasharray="10 360" stroke-dashoffset="0"/>
<circle class="s pKl" r="16" pathLength="360" stroke-dasharray="49 360" stroke-dashoffset="-10"/>
<circle class="s pEs" r="16" pathLength="360" stroke-dasharray="77 360" stroke-dashoffset="-59"/>
<circle class="s pAc" r="16" pathLength="360" stroke-dasharray="224 360" stroke-dashoffset="-136"/>
</g>
<g transform="translate(984,898)">
<circle class="s pFII" r="16" pathLength="360" stroke-dasharray="50 360" stroke-dashoffset="-19"/>
<circle class="s pAC" r="16" pathLength="360" stroke-dasharray="52 360" stroke-dashoffset="-69"/>
<circle class="s pHI1" r="16" pathLength="360" stroke-dasharray="239 360" stroke-dashoffset="-121"/>
</g>
<g transform="translate(1071,898)">
<circle class="s pAn" r="16" pathLength="360" stroke-dasharray="12 360" stroke-dashoffset="0"/>
<circle class="s pEv" r="16" pathLength="360" stroke-dasharray="68 360" stroke-dashoffset="-12"/>
<circle class="s pHo" r="16" pathLength="360" stroke-dasharray="206 360" stroke-dashoffset="-154"/>
</g>
<g transform="translate(1152,898)">
<circle class="s pAf" r="16" pathLength="360" stroke-dasharray="12 360" stroke-dashoffset="0"/>
<circle class="s pSA" r="16" pathLength="360" stroke-dasharray="33 360" stroke-dashoffset="-12"/>
<circle class="s pNA" r="16" pathLength="360" stroke-dasharray="50 360" stroke-dashoffset="-45"/>
<circle class="s pAs" r="16" pathLength="360" stroke-dasharray="170 360" stroke-dashoffset="-190"/>
</g>
</g>

<g id="pies-c7">
<g transform="translate(894,995)">
<circle class="s pPr" r="16" pathLength="360" stroke-dasharray="12 360" stroke-dashoffset="0"/>
<circle class="s pEn" r="16" pathLength="360" stroke-dasharray="51 360" stroke-dashoffset="-12"/>
<circle class="s pEs" r="16" pathLength="360" stroke-dasharray="112 360" stroke-dashoffset="-63"/>
<circle class="s pKl" r="16" pathLength="360" stroke-dasharray="185 360" stroke-dashoffset="-175"/>
</g>
<g transform="translate(984,995)">
<circle class="s pFII" r="16" pathLength="360" stroke-dasharray="8 360" stroke-dashoffset="0"/>
<circle class="s pHI1" r="16" pathLength="360" stroke-dasharray="17 360" stroke-dashoffset="-8"/>
<circle class="s pX3" r="16" pathLength="360" stroke-dasharray="25 360" stroke-dashoffset="-25"/>
<circle class="s pT" r="16" pathLength="360" stroke-dasharray="30 360" stroke-dashoffset="-50"/>
<circle class="s pAC" r="16" pathLength="360" stroke-dasharray="20 360" stroke-dashoffset="-80"/>
<circle class="s pX1" r="16" pathLength="360" stroke-dasharray="50 360" stroke-dashoffset="-100"/>
<circle class="s pN" r="16" pathLength="360" stroke-dasharray="82 360" stroke-dashoffset="-150"/>
<circle class="s pFII" r="16" pathLength="360" stroke-dasharray="128 360" stroke-dashoffset="-232"/>
</g>
<g transform="translate(1071,995)">
<circle class="s pHo" r="16" pathLength="360" stroke-dasharray="275 360" stroke-dashoffset="-85"/>
</g>
<g transform="translate(1152,995)">
<circle class="s pAf" r="16" pathLength="360" stroke-dasharray="67 360" stroke-dashoffset="-39"/>
<circle class="s pNA" r="16" pathLength="360" stroke-dasharray="69 360" stroke-dashoffset="-106"/>
<circle class="s pAs" r="16" pathLength="360" stroke-dasharray="185 360" stroke-dashoffset="-175"/>
</g>
</g>

<g id="pies-c10">
<circle cx="894" cy="1096" r="32" fill="#ef8a62"/>
<g transform="translate(984,1096)">
<circle class="s pFII" r="16" pathLength="360" stroke-dasharray="146 360" stroke-dashoffset="0"/>
<circle class="s pHI1" r="16" pathLength="360" stroke-dasharray="214 360" stroke-dashoffset="-146"/>
</g>
<g transform="translate(1071,1096)">
<circle class="s pHo" r="16" pathLength="360" stroke-dasharray="286 360" stroke-dashoffset="-74"/>
</g>
<g transform="translate(1152,1096)">
<circle class="s pNA" r="16" pathLength="360" stroke-dasharray="135 360" stroke-dashoffset="-74"/>
<circle class="s pAs" r="16" pathLength="360" stroke-dasharray="151 360" stroke-dashoffset="-209"/>
</g>
</g>

<g id="pies-c11">
<g transform="translate(894,1196)">
<circle class="s pSe" r="16" pathLength="360" stroke-dasharray="22 360" stroke-dashoffset="0"/>
<circle class="s pKl" r="16" pathLength="360" stroke-dasharray="40 360" stroke-dashoffset="-22"/>
<circle class="s pPr" r="16" pathLength="360" stroke-dasharray="43 360" stroke-dashoffset="-62"/>
<circle class="s pCi" r="16" pathLength="360" stroke-dasharray="75 360" stroke-dashoffset="-105"/>
<circle class="s pEn" r="16" pathLength="360" stroke-dasharray="70 360" stroke-dashoffset="-180"/>
<circle class="s pEs" r="16" pathLength="360" stroke-dasharray="110 360" stroke-dashoffset="-250"/>
</g>
<g transform="translate(984,1196)">
<circle class="s pFII" r="16" pathLength="360" stroke-dasharray="30 360" stroke-dashoffset="0"/>
<circle class="s pAC" r="16" pathLength="360" stroke-dasharray="330 360" stroke-dashoffset="-30"/>
</g>
<g transform="translate(1071,1196)">
<circle class="s pHo" r="16" pathLength="360" stroke-dasharray="287 360" stroke-dashoffset="-73"/>
</g>
<g transform="translate(1152,1190)">
<circle class="s pSA" r="16" pathLength="360" stroke-dasharray="30 360" stroke-dashoffset="0"/>
<circle class="s pNA" r="16" pathLength="360" stroke-dasharray="45 360" stroke-dashoffset="-30"/>
<circle class="s pEu" r="16" pathLength="360" stroke-dasharray="75 360" stroke-dashoffset="-75"/>
<circle class="s pAs" r="16" pathLength="360" stroke-dasharray="60 360" stroke-dashoffset="-150"/>
</g>
</g>

<g id="pies-c14">
<circle cx="984" cy="1299" r="32" fill="#a6cadf"/>
<circle cx="1071" cy="1299" r="32" fill="#6b1f52"/>
<circle cx="1152" cy="1299" r="32" fill="#9b7a4a"/>
</g>

<g id="pies-c13">
<g transform="translate(894,1408)">
<circle class="s pEn" r="16" pathLength="360" stroke-dasharray="74 360" stroke-dashoffset="0"/>
<circle class="s pKl" r="16" pathLength="360" stroke-dasharray="72 360" stroke-dashoffset="-74"/>
<circle class="s pEs" r="16" pathLength="360" stroke-dasharray="214 360" stroke-dashoffset="-146"/>
</g>
<circle cx="984" cy="1408" r="32" fill="#f09898"/>
<g transform="translate(1071,1408)">
<circle class="s pAn" r="16" pathLength="360" stroke-dasharray="33 360" stroke-dashoffset="0"/>
<circle class="s pHo" r="16" pathLength="360" stroke-dasharray="287 360" stroke-dashoffset="-73"/>
</g>
<g transform="translate(1152,1408)">
<circle class="s pNA" r="16" pathLength="360" stroke-dasharray="30 360" stroke-dashoffset="0"/>
<circle class="s pAs" r="16" pathLength="360" stroke-dasharray="290 360" stroke-dashoffset="-70"/>
</g>
</g>

<!-- Legend: Gene -->
<g id="legend-gene">
<text class="lh" x="96.7" y="1501" font-size="19">Gene</text>
<text class="lh" x="185" y="1523" font-size="17" text-anchor="middle">MGE</text>
<line x1="106.7" y1="1527" x2="258.3" y2="1527" stroke="#111" stroke-width="1.6"/>
<text class="lh" x="326.7" y="1523" font-size="17">ARG</text>
<text class="lh" x="430" y="1523" font-size="17">MRG</text>
<text class="lh" x="531.7" y="1523" font-size="17">Other</text>
<text class="lh" x="428" y="1646" font-size="17">Chaperonin</text>
<g class="sw">
<rect class="Tn2" x="97.3" y="1536.5" width="17.5" height="17.5"/>
<rect class="tnpR" x="97.3" y="1557.5" width="17.5" height="17.5"/>
<rect class="IS15" x="97.3" y="1578.5" width="17.5" height="17.5"/>
<rect class="IS26" x="97.3" y="1599.5" width="17.5" height="17.5"/>
<rect class="IS3000" x="97.3" y="1620.5" width="17.5" height="17.5"/>
<rect class="IS5" x="97.3" y="1641.5" width="17.5" height="17.5"/>
<rect class="IS6100" x="97.3" y="1662.5" width="17.5" height="17.5"/>
<rect class="ISAba125" x="97.3" y="1683.5" width="17.5" height="17.5"/>
<rect class="ISAba14" x="97.3" y="1704.5" width="17.5" height="17.5"/>
<rect class="ISCro1" x="97.3" y="1725.5" width="17.5" height="17.5"/>
<rect class="ISEc33" x="201.7" y="1537" width="17.5" height="17.5"/>
<rect class="ISKox3" x="201.7" y="1558.7" width="17.5" height="17.5"/>
<rect class="ISKpn14" x="201.7" y="1580.4" width="17.5" height="17.5"/>
<rect class="ISSen4" x="201.7" y="1602.1" width="17.5" height="17.5"/>
<rect class="ISSpu2" x="201.7" y="1623.8" width="17.5" height="17.5"/>
<rect class="ISSu9" x="201.7" y="1645.5" width="17.5" height="17.5"/>
<rect class="ISStma11" x="201.7" y="1667.2" width="17.5" height="17.5"/>
<rect class="IS1222" x="201.7" y="1688.9" width="17.5" height="17.5"/>
<rect class="aadA" x="326" y="1537" width="17.5" height="17.5"/>
<rect class="aphA" x="326" y="1558.6" width="17.5" height="17.5"/>
<rect class="armA" x="326" y="1580.2" width="17.5" height="17.5"/>
<rect class="blaNDM" x="326" y="1601.8" width="17.5" height="17.5"/>
<rect class="blaTEM" x="326" y="1623.4" width="17.5" height="17.5"/>
<rect class="sul1" x="326" y="1645" width="17.5" height="17.5"/>
<rect class="emrE" x="326" y="1666.6" width="17.5" height="17.5"/>
<rect class="ble" x="326" y="1688.2" width="17.5" height="17.5"/>
<rect class="merA" x="428.3" y="1537" width="17.5" height="17.5"/>
<rect class="merC" x="428.3" y="1558.4" width="17.5" height="17.5"/>
<rect class="merP" x="428.3" y="1579.8" width="17.5" height="17.5"/>
<rect class="merT" x="428.3" y="1601.2" width="17.5" height="17.5"/>
<rect class="groL" x="428.3" y="1658" width="17.5" height="17.5"/>
<rect class="groS" x="428.3" y="1679.5" width="17.5" height="17.5"/>
<rect class="DsbD" x="428.3" y="1702" width="17.5" height="17.5"/>
<rect class="cutA" x="536.7" y="1536.8" width="17.5" height="17.5"/>
<rect class="xerD" x="536.7" y="1558.6" width="17.5" height="17.5"/>
<rect class="trpF" x="536.7" y="1580.4" width="17.5" height="17.5"/>
<rect class="umuD" x="536.7" y="1602.2" width="17.5" height="17.5"/>
<rect class="virB11" x="536.7" y="1624" width="17.5" height="17.5"/>
<rect class="pinR" x="536.7" y="1645.8" width="17.5" height="17.5"/>
<rect class="pld" x="536.7" y="1667.6" width="17.5" height="17.5"/>
<rect class="pdg" x="536.7" y="1689.4" width="17.5" height="17.5"/>
<rect class="hin" x="536.7" y="1711.2" width="17.5" height="17.5"/>
<rect class="hp" x="536.7" y="1733" width="17.5" height="17.5"/>
</g>
<g class="lg">
<text class="lg" x="125" y="1551">Tn2</text>
<text class="lg" x="125" y="1572">tnpR</text>
<text class="lg" x="125" y="1593">IS15</text>
<text class="lg" x="125" y="1614">IS26</text>
<text class="lg" x="125" y="1635">IS3000</text>
<text class="lg" x="125" y="1656">IS5</text>
<text class="lg" x="125" y="1677">IS6100</text>
<text class="lg" x="125" y="1698">ISAba125</text>
<text class="lg" x="125" y="1719">ISAba14</text>
<text class="lg" x="125" y="1740">ISCro1</text>
<text class="lg" x="228.3" y="1551.2">ISEc33</text>
<text class="lg" x="228.3" y="1572.9">ISKox3</text>
<text class="lg" x="228.3" y="1594.6">ISKpn14</text>
<text class="lg" x="228.3" y="1616.3">ISSen4</text>
<text class="lg" x="228.3" y="1638">ISSpu2</text>
<text class="lg" x="228.3" y="1659.7">ISSu9</text>
<text class="lg" x="228.3" y="1681.4">ISStma11</text>
<text class="lg" x="228.3" y="1703.1">IS1222</text>
<text class="lg" x="351.7" y="1551.2">aadA</text>
<text class="lg" x="351.7" y="1572.8">aphA</text>
<text class="lg" x="351.7" y="1594.4">armA</text>
<text class="lg" x="351.7" y="1616">blaNDM</text>
<text class="lg" x="351.7" y="1637.6">blaTEM</text>
<text class="lg" x="351.7" y="1659.2">sul1</text>
<text class="lg" x="351.7" y="1680.8">emrE</text>
<text class="lg" x="351.7" y="1702.4">ble</text>
<text class="lg" x="455" y="1551.2">merA</text>
<text class="lg" x="455" y="1572.6">merC</text>
<text class="lg" x="455" y="1594">merP</text>
<text class="lg" x="455" y="1615.4">merT</text>
<text class="lg" x="455" y="1672.2">groL</text>
<text class="lg" x="455" y="1693.7">groS</text>
<text class="lg" x="455" y="1716.2">DsbD</text>
<text class="lg" x="563.3" y="1551">cutA</text>
<text class="lg" x="563.3" y="1572.8">xerD</text>
<text class="lg" x="563.3" y="1594.6">trpF</text>
<text class="lg" x="563.3" y="1616.4">umuD</text>
<text class="lg" x="563.3" y="1638.2">virB11</text>
<text class="lg" x="563.3" y="1660">pinR</text>
<text class="lg" x="563.3" y="1681.8">pld</text>
<text class="lg" x="563.3" y="1703.6">pdg</text>
<text class="lg" x="563.3" y="1725.4">hin</text>
<text class="lg" x="563.3" y="1747.2">hp</text>
</g>
</g>

<!-- Legend: Genus -->
<g id="legend-genus">
<text class="lh" x="636.4" y="1501" font-size="20.5">Genus</text>
<g stroke="#333" stroke-width="1">
<rect x="634.4" y="1515" width="26" height="12.7" fill="#ef8a62"/>
<rect x="634.4" y="1536" width="26" height="12.7" fill="#a6d05a"/>
<rect x="634.4" y="1557" width="26" height="12.7" fill="#8e4ea0"/>
<rect x="634.4" y="1578" width="26" height="12.7" fill="#3a7ab5"/>
<rect x="634.4" y="1599" width="26" height="12.7" fill="#f5d438"/>
<rect x="634.4" y="1620" width="26" height="12.7" fill="#a0522d"/>
<rect x="634.4" y="1641" width="26" height="12.7" fill="#e0c08f"/>
<rect x="634.4" y="1662" width="26" height="12.7" fill="#f0ec50"/>
<rect x="634.4" y="1683" width="26" height="12.7" fill="#8b9dc3"/>
<rect x="634.4" y="1704" width="26" height="12.7" fill="#63c1a0"/>
</g>
<rect x="634.4" y="1725" width="26" height="12.7" fill="#e08cc0"/>
<g class="lg2 it">
<text class="lg2 it" x="672" y="1527.5">Klebsiella</text>
<text class="lg2 it" x="672" y="1548.5">Enterobacter</text>
<text class="lg2 it" x="672" y="1569.5">Raoultella</text>
<text class="lg2 it" x="672" y="1590.5">Salmonella</text>
<text class="lg2 it" x="672" y="1611.5">Citrobacter</text>
<text class="lg2 it" x="672" y="1632.5">Acinetobacter</text>
<text class="lg2 it" x="672" y="1653.5">Providencia</text>
<text class="lg2 it" x="672" y="1674.5">Leclercia</text>
<text class="lg2 it" x="672" y="1695.5">Escherichia</text>
<text class="lg2 it" x="672" y="1716.5">Serratia</text>
<text class="lg2 it" x="672" y="1737.5">Morganella</text>
</g>
</g>

<!-- Legend: Inc type -->
<g id="legend-inc">
<text class="lh" x="823" y="1501" font-size="20.5">Inc type</text>
<g stroke="#333" stroke-width="1">
<rect x="822" y="1515" width="25" height="12.7" fill="#b2d88e"/>
<rect x="822" y="1536" width="25" height="12.7" fill="#a6cadf"/>
<rect x="822" y="1557" width="25" height="12.7" fill="#d7261e"/>
<rect x="822" y="1578" width="25" height="12.7" fill="#ef7f1a"/>
<rect x="822" y="1599" width="25" height="12.7" fill="#8a6aae"/>
<rect x="822" y="1620" width="25" height="12.7" fill="#f09898"/>
<rect x="822" y="1641" width="25" height="12.7" fill="#808080"/>
<rect x="822" y="1662" width="25" height="12.7" fill="#2372a9"/>
<rect x="822" y="1683" width="25" height="12.7" fill="#c5afd5"/>
<rect x="822" y="1704" width="25" height="12.7" fill="#3d7a3d"/>
</g>
<text class="lg2" x="862" y="1527.5">IncFII</text>
<text class="lg2" x="862" y="1548.5">IncA/C</text>
<text class="lg2" x="862" y="1569.5">IncQ</text>
<text class="lg2" x="862" y="1590.5">IncHI1</text>
<text class="lg2" x="862" y="1611.5">IncT</text>
<text class="lg2" x="862" y="1632.5">IncN</text>
<text class="lg2" x="862" y="1653.5">IncL/M</text>
<text class="lg2" x="862" y="1674.5">IncX3</text>
<text class="lg2" x="862" y="1695.5">IncI</text>
<text class="lg2" x="862" y="1716.5">IncX1/X4/X6</text>
</g>

<!-- Legend: Host -->
<g id="legend-host">
<text class="lh" x="987.7" y="1501" font-size="20.5">Host</text>
<g stroke="#333" stroke-width="1">
<rect x="987.7" y="1515" width="24.5" height="12.7" fill="#6b1f52"/>
<rect x="987.7" y="1536" width="24.5" height="12.7" fill="#e8734f"/>
<rect x="987.7" y="1557" width="24.5" height="12.7" fill="#d5343f"/>
</g>
<rect x="987.7" y="1578" width="24.5" height="12.7" fill="#f4b392"/>
<text class="lg2" x="1026.7" y="1527.5">Homo sapiens</text>
<text class="lg2" x="1026.7" y="1548.5">Environment</text>
<text class="lg2" x="1026.7" y="1569.5">Animal</text>
<text class="lg2" x="1026.7" y="1590.5">Vegetable</text>
</g>

<!-- Legend: Location -->
<g id="legend-location">
<text class="lh" x="987.7" y="1627" font-size="20.5">Location</text>
<g stroke="#333" stroke-width="1">
<rect x="989" y="1641.7" width="25" height="12.7" fill="#14544a"/>
<rect x="989" y="1661.7" width="25" height="12.7" fill="#9b7a4a"/>
<rect x="989" y="1681.7" width="25" height="12.7" fill="#cc7fa8"/>
<rect x="989" y="1701.7" width="25" height="12.7" fill="#c0b0d8"/>
<rect x="989" y="1721.7" width="25" height="12.7" fill="#cde9ef"/>
<rect x="989" y="1741" width="25" height="12.7" fill="#1a1a40"/>
</g>
<text class="lg2" x="1023" y="1654">Asia</text>
<text class="lg2" x="1023" y="1674">Europe</text>
<text class="lg2" x="1023" y="1694">North America</text>
<text class="lg2" x="1023" y="1714">Africa</text>
<text class="lg2" x="1023" y="1734">Australia</text>
<text class="lg2" x="1023" y="1753.3">South America</text>
</g>
</svg>
